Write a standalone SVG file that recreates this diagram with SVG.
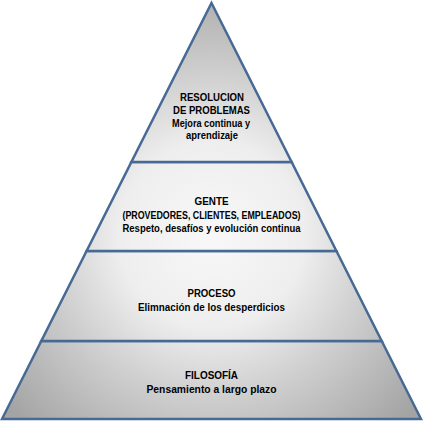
<svg xmlns="http://www.w3.org/2000/svg" width="423" height="422" viewBox="0 0 423 422">
<defs>
<radialGradient id="g" gradientUnits="userSpaceOnUse" cx="211.5" cy="235" r="265">
<stop offset="0" stop-color="#f8f8f8"/>
<stop offset="0.35" stop-color="#eeeeee"/>
<stop offset="0.6" stop-color="#d0d0d0"/>
<stop offset="1" stop-color="#a4a4a4"/>
</radialGradient>
</defs>
<style>
.layer{fill:url(#g);stroke:#476a94;stroke-width:2.5;stroke-linejoin:miter}
text{font-family:"Liberation Sans",Arial,sans-serif;font-weight:bold;font-size:11px;fill:#000;text-anchor:middle}
</style>
<rect width="423" height="422" fill="#ffffff"/>
<g id="filosofia">
<polygon class="layer" points="41.3,341 381.7,341 421,419 2,419"/>
<text x="211.5" y="379" textLength="53" lengthAdjust="spacingAndGlyphs">FILOSOFÍA</text>
<text x="211.5" y="393" textLength="130" lengthAdjust="spacingAndGlyphs">Pensamiento a largo plazo</text>
</g>
<g id="proceso">
<polygon class="layer" points="86.6,251 336.4,251 381.7,341 41.3,341"/>
<text x="211.5" y="297" textLength="48" lengthAdjust="spacingAndGlyphs">PROCESO</text>
<text x="211.5" y="311" textLength="147" lengthAdjust="spacingAndGlyphs">Elimnación de los desperdicios</text>
</g>
<g id="gente">
<polygon class="layer" points="131.4,162 291.6,162 336.4,251 86.6,251"/>
<text x="211.5" y="205" textLength="34" lengthAdjust="spacingAndGlyphs">GENTE</text>
<text x="211.5" y="219" textLength="178" lengthAdjust="spacingAndGlyphs">(PROVEDORES, CLIENTES, EMPLEADOS)</text>
<text x="211.5" y="232" textLength="178" lengthAdjust="spacingAndGlyphs">Respeto, desafíos y evolución continua</text>
</g>
<g id="resolucion">
<polygon class="layer" points="211.5,3 291.6,162 131.4,162"/>
<text x="212" y="101" textLength="64" lengthAdjust="spacingAndGlyphs">RESOLUCION</text>
<text x="211.5" y="114" textLength="77" lengthAdjust="spacingAndGlyphs">DE PROBLEMAS</text>
<text x="211" y="127" textLength="78" lengthAdjust="spacingAndGlyphs">Mejora continua y</text>
<text x="212" y="139" textLength="52" lengthAdjust="spacingAndGlyphs">aprendizaje</text>
</g>
<g id="connectors"></g>
</svg>
